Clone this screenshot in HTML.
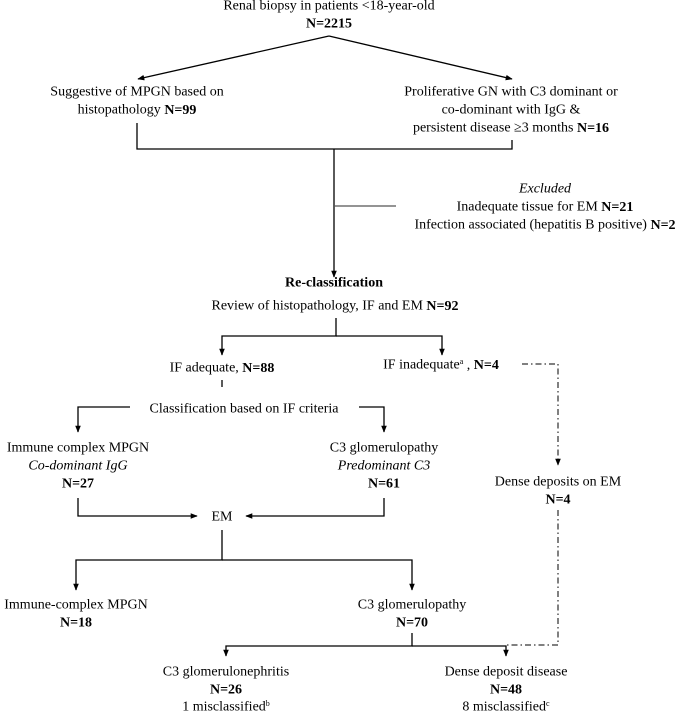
<!DOCTYPE html>
<html><head><meta charset="utf-8"><style>
html,body{margin:0;padding:0;background:#fff;}
svg{display:block;}
text{font-family:"Liberation Serif",serif;font-size:14px;fill:#000;text-anchor:middle;dominant-baseline:central;}
.b{font-weight:bold;}
.i{font-style:italic;}
</style></head><body>
<svg width="685" height="713" viewBox="0 0 685 713" xmlns="http://www.w3.org/2000/svg">
<defs>
<marker id="a" viewBox="0 0 10 10" refX="9" refY="5" markerWidth="7" markerHeight="7" orient="auto" markerUnits="userSpaceOnUse"><path d="M0,1 L10,5 L0,9 z" fill="#000"/></marker>
</defs>
<g stroke="#000" stroke-width="1.3" fill="none">
<line x1="329" y1="36" x2="138" y2="79" marker-end="url(#a)"/>
<line x1="329" y1="36" x2="512" y2="79" marker-end="url(#a)"/>
<polyline points="137,123 137,149 512,149 512,140"/>
<line x1="334" y1="149" x2="334" y2="277" marker-end="url(#a)"/>
<line x1="334" y1="206" x2="396" y2="206" stroke="#555"/>
<polyline points="336,318 336,336 222,336 222,355" marker-end="url(#a)"/>
<polyline points="336,336 442,336 442,355" marker-end="url(#a)"/>
<line x1="222" y1="380" x2="222" y2="387"/>
<polyline points="130,407 78,407 78,432" marker-end="url(#a)"/>
<polyline points="359,407 384,407 384,432" marker-end="url(#a)"/>
<polyline points="78,498 78,516 197,516" marker-end="url(#a)"/>
<polyline points="384,498 384,516 246,516" marker-end="url(#a)"/>
<polyline points="222,530 222,560 76,560 76,590" marker-end="url(#a)"/>
<polyline points="222,560 412,560 412,590" marker-end="url(#a)"/>
<polyline points="412,633 412,646 226,646 226,656" marker-end="url(#a)"/>
<polyline points="412,646 506,646 506,656" marker-end="url(#a)"/>
<g stroke-dasharray="6,3,1.5,3" stroke-width="1">
<polyline points="522,364 558,364 558,465" marker-end="url(#a)"/>
<polyline points="558,510 558,645 507,645"/>
</g>
</g>
<text x="329" y="6">Renal biopsy in patients &lt;18-year-old</text>
<text x="329" y="24" class="b">N=2215</text>
<text x="137" y="92">Suggestive of MPGN based on</text>
<text x="137" y="110">histopathology <tspan class="b">N=99</tspan></text>
<text x="511" y="92">Proliferative GN with C3 dominant or</text>
<text x="511" y="110">co-dominant with IgG &amp;</text>
<text x="511" y="128">persistent disease ≥3 months <tspan class="b">N=16</tspan></text>
<text x="545" y="189" class="i">Excluded</text>
<text x="545" y="207">Inadequate tissue for EM <tspan class="b">N=21</tspan></text>
<text x="545" y="225">Infection associated (hepatitis B positive) <tspan class="b">N=2</tspan></text>
<text x="334" y="283" class="b">Re-classification</text>
<text x="335" y="306">Review of histopathology, IF and EM  <tspan class="b">N=92</tspan></text>
<text x="222" y="368">IF adequate, <tspan class="b">N=88</tspan></text>
<text x="441" y="365">IF inadequate<tspan font-size="8" dy="-4">a</tspan><tspan dy="4"> , </tspan><tspan class="b">N=4</tspan></text>
<text x="244" y="409">Classification based on IF criteria</text>
<text x="78" y="448">Immune complex MPGN</text>
<text x="78" y="466" class="i">Co-dominant IgG</text>
<text x="78" y="484" class="b">N=27</text>
<text x="384" y="448">C3 glomerulopathy</text>
<text x="384" y="466" class="i">Predominant C3</text>
<text x="384" y="484" class="b">N=61</text>
<text x="558" y="482">Dense deposits on EM</text>
<text x="558" y="500" class="b">N=4</text>
<text x="222" y="517">EM</text>
<text x="76" y="605">Immune-complex MPGN</text>
<text x="76" y="623" class="b">N=18</text>
<text x="412" y="605">C3 glomerulopathy</text>
<text x="412" y="623" class="b">N=70</text>
<text x="226" y="672">C3 glomerulonephritis</text>
<text x="226" y="690" class="b">N=26</text>
<text x="226" y="707">1 misclassified<tspan font-size="8" dy="-4">b</tspan></text>
<text x="506" y="672">Dense deposit disease</text>
<text x="506" y="690" class="b">N=48</text>
<text x="506" y="707">8 misclassified<tspan font-size="8" dy="-4">c</tspan></text>
</svg>
</body></html>
